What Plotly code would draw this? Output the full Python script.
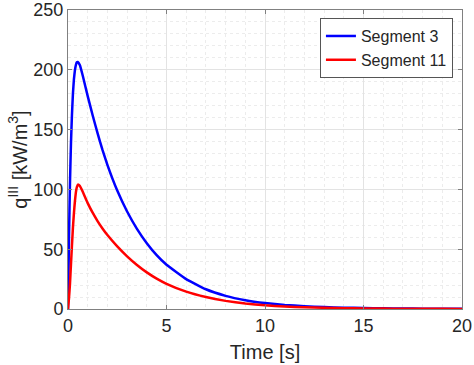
import plotly.graph_objects as go

time_s = [0, 0.05, 0.1, 0.15, 0.2, 0.25, 0.3, 0.35, 0.4, 0.45, 0.5, 0.6, 0.75, 1.0, 1.25,
          1.5, 1.75, 2.0, 2.5, 3.0, 3.5, 4.0, 4.5, 5, 6, 7, 8, 9, 10, 11, 12, 13, 14, 15,
          16, 17, 18, 19, 20]
seg3 = [0, 60, 105, 138, 162, 180, 192, 199.5, 204, 206.3, 206.5, 204, 195, 178, 162,
        147, 133, 120.5, 99, 81.5, 67, 55, 45, 37, 25, 16.5, 11, 7.4, 5, 3.4, 2.3, 1.6, 1.1, 0.8,
        0.55, 0.4, 0.3, 0.2, 0.15]
seg11 = [0, 9, 21, 37, 53, 68, 80, 90, 97.5, 102, 104, 103, 98, 88.5, 80.5,
         73.5, 67.3, 61.8, 52.3, 44, 36.8, 30.6, 25.4, 21.1, 14.5, 10, 6.8, 4.6, 3.1, 2.1, 1.45, 1.0, 0.7, 0.5,
         0.35, 0.25, 0.18, 0.12, 0.1]

x_ticks = [0, 5, 10, 15, 20]
y_ticks = [0, 50, 100, 150, 200, 250]

FONT = "Liberation Sans, Arial, Helvetica, sans-serif"
TXT = "#262626"

fig = go.Figure()
fig.add_trace(go.Scatter(x=time_s, y=seg3, mode="lines", name="Segment 3",
                         line=dict(color="#0000ff", width=2.5, shape="spline", smoothing=0.3)))
fig.add_trace(go.Scatter(x=time_s, y=seg11, mode="lines", name="Segment 11",
                         line=dict(color="#ff0000", width=2.5, shape="spline", smoothing=0.3)))

axis_common = dict(
    showline=True, linecolor="#808080", linewidth=1, mirror="allticks",
    ticks="inside", ticklen=4, tickcolor="#808080",
    showgrid=True, gridcolor="#e3e3e3", gridwidth=1,
    zeroline=False, automargin=False, ticklabeloverflow="allow",
    tickfont=dict(family=FONT, size=18, color=TXT),
)

fig.update_xaxes(range=[0, 20], tickvals=x_ticks,
                 title=dict(text="Time [s]", font=dict(family=FONT, size=20, color=TXT), standoff=10),
                 minor=dict(dtick=1, showgrid=True, gridcolor="#ececec", griddash="dot", ticks=""),
                 **axis_common)
fig.update_yaxes(range=[0, 250], tickvals=y_ticks,
                 title=dict(text="q<sup>III</sup> [kW/m<sup>3</sup>]", font=dict(family=FONT, size=20, color=TXT), standoff=0),
                 minor=dict(dtick=10, showgrid=True, gridcolor="#ececec", griddash="dot", ticks=""),
                 **axis_common)

fig.update_layout(
    width=474, height=365,
    margin=dict(l=68, r=12, t=10, b=56),
    paper_bgcolor="white", plot_bgcolor="white",
    font=dict(family=FONT, color=TXT),
    legend=dict(x=0.977, xanchor="right", y=0.973, yanchor="top",
                bgcolor="white", bordercolor="#555555", borderwidth=1,
                font=dict(family=FONT, size=16, color=TXT), tracegroupgap=0),
)

fig.write_html("out.html", config={"displayModeBar": False},
               post_script="document.body.style.margin='0';")
